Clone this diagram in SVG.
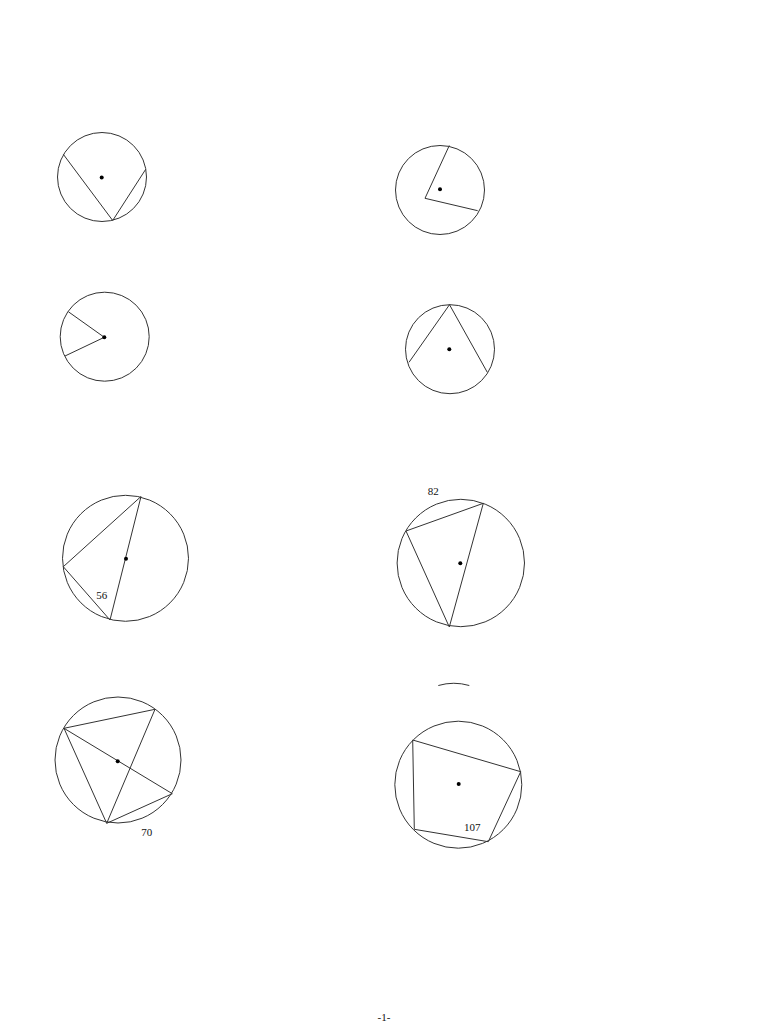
<svg xmlns="http://www.w3.org/2000/svg" width="768" height="1024" viewBox="0 0 768 1024">
<style>
.c{fill:none;stroke:#333;stroke-width:1}
.l{fill:none;stroke:#333;stroke-width:1}
.d{fill:#000}
.t{font-family:"Liberation Serif",serif;font-size:11px;fill:#111;text-anchor:middle}
</style>
<rect width="768" height="1024" fill="#fff"/>
<g id="circle1">
<circle class="c" cx="102" cy="177" r="44.5"/>
<polyline class="l" points="63.3,154.3 112.7,220.5 145.7,169.3"/>
<circle class="d" cx="101.7" cy="177.5" r="2"/>
</g>
<g id="circle2">
<circle class="c" cx="440" cy="190" r="44.5"/>
<polyline class="l" points="449.3,145.5 425,198.3 477.7,210.7"/>
<circle class="d" cx="440" cy="189.3" r="2"/>
</g>
<g id="circle3">
<circle class="c" cx="104.7" cy="336.7" r="44.5"/>
<polyline class="l" points="68.3,311.7 104.3,337.3 65,356"/>
<circle class="d" cx="104.3" cy="337.3" r="2"/>
</g>
<g id="circle4">
<circle class="c" cx="450" cy="349.2" r="44.5"/>
<polyline class="l" points="409,362.3 449.5,304.7 487.3,372.3"/>
<circle class="d" cx="449.3" cy="349.3" r="2"/>
</g>
<g id="circle5">
<circle class="c" cx="125.5" cy="558.3" r="63"/>
<polygon class="l" points="141,496.5 63.3,566.7 110,620"/>
<circle class="d" cx="126" cy="558.7" r="2"/>
<text class="t" x="101.7" y="598.5">56</text>
</g>
<g id="circle6">
<circle class="c" cx="460.8" cy="563" r="63.7"/>
<polygon class="l" points="483.3,503.3 406,531 449.3,627"/>
<circle class="d" cx="460.3" cy="563.3" r="2"/>
<text class="t" x="433.3" y="495">82</text>
</g>
<g id="circle7">
<circle class="c" cx="118" cy="760" r="63"/>
<polyline class="l" points="155,709.3 64,728.3 172.3,793.7 106.7,823.3 64,728.3"/>
<line class="l" x1="155" y1="709.3" x2="106.7" y2="823.3"/>
<circle class="d" cx="117.7" cy="761.2" r="2"/>
<text class="t" x="146.7" y="835.5">70</text>
</g>
<g id="circle8">
<circle class="c" cx="458.3" cy="784.7" r="63.5"/>
<polygon class="l" points="412.7,740 520.7,771.7 488.3,841.7 414.3,829.3"/>
<circle class="d" cx="458.7" cy="784" r="2"/>
<text class="t" x="472.3" y="830.5">107</text>
<path class="l" d="M438.3,685.5 Q453.8,681 469.3,685.5"/>
</g>
<text class="t" x="384" y="1021">-1-</text>
</svg>
